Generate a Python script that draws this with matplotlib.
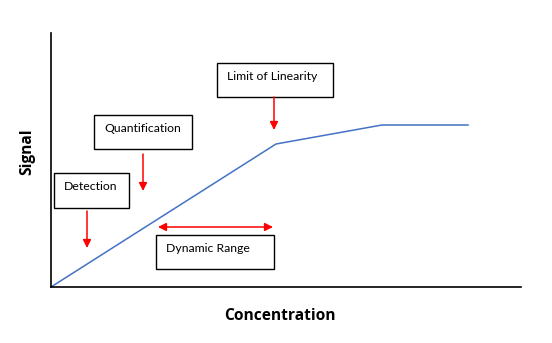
import matplotlib
matplotlib.use("Agg")
import matplotlib.pyplot as plt
from matplotlib.patches import Rectangle

# Calibration curve: linear region, then curvature and saturation
concentration = [0, 225, 331, 417]
signal = [0, 143, 162, 162]

# Annotation boxes: label, (x0, y0, width, height), text anchor
box_labels = ["Detection", "Quantification", "Limit of Linearity", "Dynamic Range"]
box_rects = [(3, 79, 75, 35), (43, 138, 98, 34), (166, 190, 116, 34), (105, 18, 118, 34)]
text_pos = [(13, 101), (53, 159), (176, 211), (115, 39)]

# Single-headed arrows (x, y_start, y_end) and the double-headed range arrow
down_arrows = [(36, 76, 39), (92, 133, 96), (223, 190, 157)]
range_arrow = (107, 222, 60)

fig = plt.figure(figsize=(5.52, 3.43), dpi=100)
ax = fig.add_axes([51 / 552, (343 - 287) / 343, 470 / 552, 254 / 343])
ax.set_xlim(0, 470)
ax.set_ylim(0, 254)

for side in ("top", "right"):
    ax.spines[side].set_visible(False)
for side in ("left", "bottom"):
    ax.spines[side].set_color("black")
    ax.spines[side].set_linewidth(1.2)
ax.set_xticks([])
ax.set_yticks([])

ax.plot(concentration, signal, color="#4472C4", lw=1.1)

font = "Lato"
for label, (x0, y0, w, h), (tx, ty) in zip(box_labels, box_rects, text_pos):
    ax.add_patch(Rectangle((x0, y0), w, h, fill=True, facecolor="white",
                           edgecolor="black", lw=1.0, clip_on=False, zorder=3))
    ax.text(tx, ty, label, fontsize=8.8, family=font, ha="left", va="center", zorder=4)

arrow_kw = dict(arrowstyle="-|>", color="red", lw=1.1, mutation_scale=12,
                shrinkA=0, shrinkB=0)
for x, y0, y1 in down_arrows:
    ax.annotate("", xy=(x, y1), xytext=(x, y0), arrowprops=arrow_kw, zorder=5)

x0, x1, y = range_arrow
ax.annotate("", xy=(x1, y), xytext=(x0, y),
            arrowprops=dict(arrowstyle="<|-|>", color="red", lw=1.1,
                            mutation_scale=12, shrinkA=0, shrinkB=0), zorder=5)

fig.text(280 / 552, 1 - 316 / 343, "Concentration", fontsize=11.2, fontweight="bold",
         family="Open Sans", ha="center", va="center")
fig.text(27 / 552, 1 - 152 / 343, "Signal", fontsize=11.2, fontweight="bold",
         family="Open Sans", ha="center", va="center", rotation=90)

fig.savefig("out.png", dpi=100, facecolor="white")
